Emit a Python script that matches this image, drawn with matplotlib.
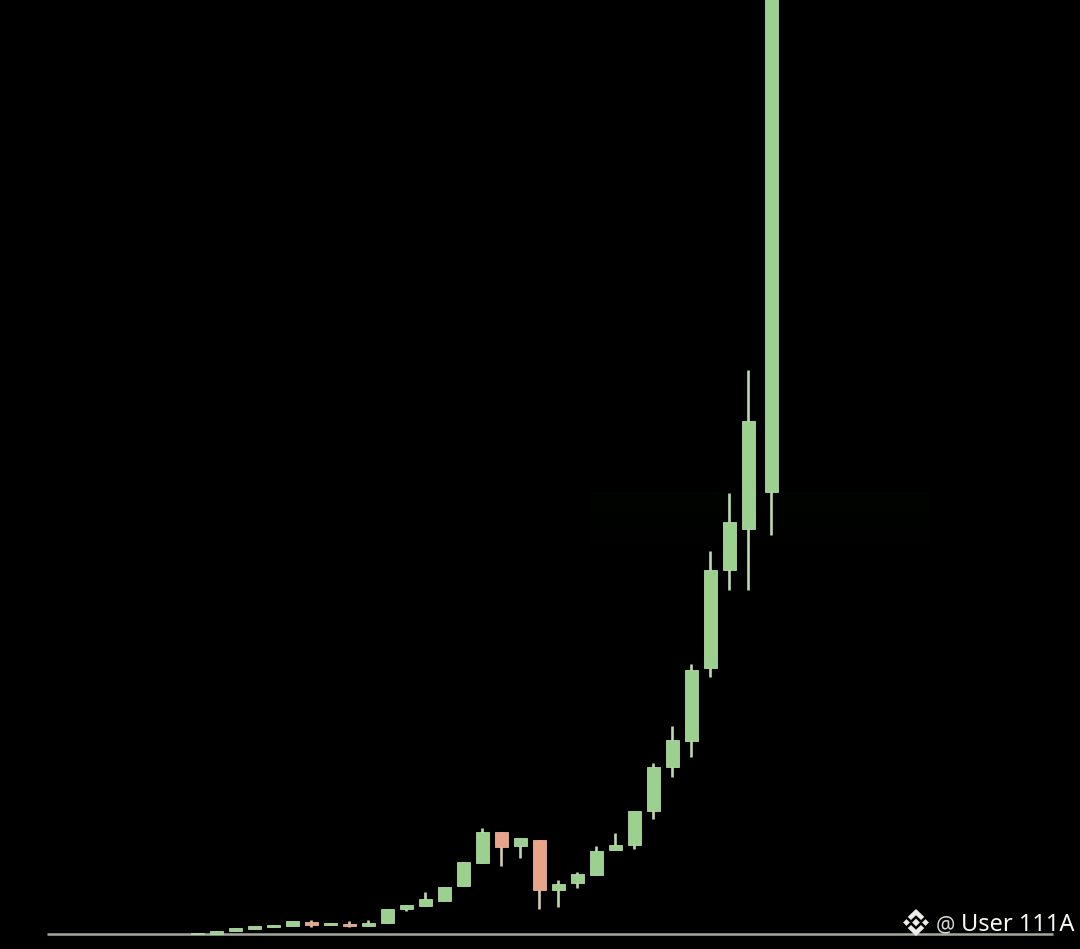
import numpy as np
import matplotlib
matplotlib.use("Agg")
import matplotlib.pyplot as plt
from matplotlib.patches import Polygon, Rectangle

# Candle values: height above the chart baseline, oldest first
opens  = [0, 0, 3, 5, 7, 8, 12, 9, 10, 8, 11, 25, 28, 33, 48, 71, 102, 88, 94, 44, 51, 59, 84, 89, 123, 167, 193, 266, 364, 405, 442]
closes = [1, 3, 6, 8, 9, 13, 9, 11, 8, 11, 25, 29, 35, 47, 72, 102, 87, 96, 44, 50, 60, 83, 89, 123, 167, 194, 264, 364, 412, 513, 1000]
highs  = [1, 3, 6, 8, 9, 13, 14, 11, 13, 14, 25, 29, 42, 47, 72, 106, 102, 96, 94, 54, 62, 88, 101, 123, 171, 208, 270, 383, 441, 564, 1000]
lows   = [0, 0, 3, 5, 7, 8, 7, 9, 7, 8, 11, 23, 28, 33, 48, 71, 68, 76, 25, 27, 46, 59, 84, 85, 115, 157, 177, 257, 344, 344, 399]

baseline_color = "#a3aa9e"
green = "#9bd08e"
red = "#e8a488"
green_edge = "#b5d8a8"
red_edge = "#e6b49c"
wick_green = "#bcd8b0"
wick_red = "#d8c8b0"

W, H = 1080, 949
fig = plt.figure(figsize=(W / 100, H / 100), dpi=100, facecolor="black")
ax = fig.add_axes([0, 0, 1, 1], facecolor="black")
ax.set_axis_off()
PX = 19.0
x0 = 197.4
ax.set_xlim(-x0 / PX, (W - x0) / PX)
ax.set_ylim(-(H - 934), 934)

# Very faint green haze behind the latest candles
haze = np.zeros((40, 1, 4))
haze[..., 1] = 0.35
haze[..., 3, ] = np.linspace(0.0, 0.05, 40).reshape(40, 1)
ax.imshow(haze, extent=[(590 - x0) / PX, (930 - x0) / PX, 934 - 560, 934 - 492],
          origin="lower", aspect="auto", zorder=0, interpolation="bilinear")
ax.set_xlim(-x0 / PX, (W - x0) / PX)
ax.set_ylim(-(H - 934), 934)

x = np.arange(len(closes), dtype=float)
x[-1] += 0.21  # the last candle stands slightly apart in the original
body_w = 12.5 / PX

ax.hlines(0, 47 / W, 1053 / W, transform=ax.get_yaxis_transform(),
          color=baseline_color, lw=1.8, zorder=1)

for xi, o, c, hi, lo in zip(x, opens, closes, highs, lows):
    up = c >= o
    ax.vlines(xi, lo, hi, color=wick_green if up else wick_red, lw=1.9, zorder=2)
    ax.add_patch(Rectangle((xi - body_w / 2, min(o, c)), body_w, abs(c - o),
                           facecolor=green if up else red,
                           edgecolor=green_edge if up else red_edge,
                           lw=0.6, zorder=3))

# Watermark: logo built in figure pixels
def px(points, cx=916, cy=922.5):
    return [((cx + a) / W, 1 - (cy + b) / H) for a, b in points]

logo = [
    [(0, -3.9), (3.9, 0), (0, 3.9), (-3.9, 0)],
    [(-9.5, -3.4), (-6.1, 0), (-9.5, 3.4), (-12.9, 0)],
    [(9.5, -3.4), (12.9, 0), (9.5, 3.4), (6.1, 0)],
    [(0, -13.5), (8.3, -5.6), (5, -2.5), (0, -7.2), (-5, -2.5), (-8.3, -5.6)],
    [(0, 13.5), (8.3, 5.6), (5, 2.5), (0, 7.2), (-5, 2.5), (-8.3, 5.6)],
]
for shape in logo:
    fig.add_artist(Polygon(px(shape), closed=True, transform=fig.transFigure,
                           facecolor="#ecece8", edgecolor="none", zorder=5))

fig.text(936 / W, 1 - 931 / H, "@", family="Noto Sans", fontsize=15.5,
         color="#d4d8cf", ha="left", va="baseline", zorder=6)
fig.text(961 / W, 1 - 931 / H, "User 111A", family="Noto Sans", fontsize=17,
         weight="medium", color="#f8f8f4", ha="left", va="baseline", zorder=6)

fig.savefig("out.png", dpi=100, facecolor="black")
